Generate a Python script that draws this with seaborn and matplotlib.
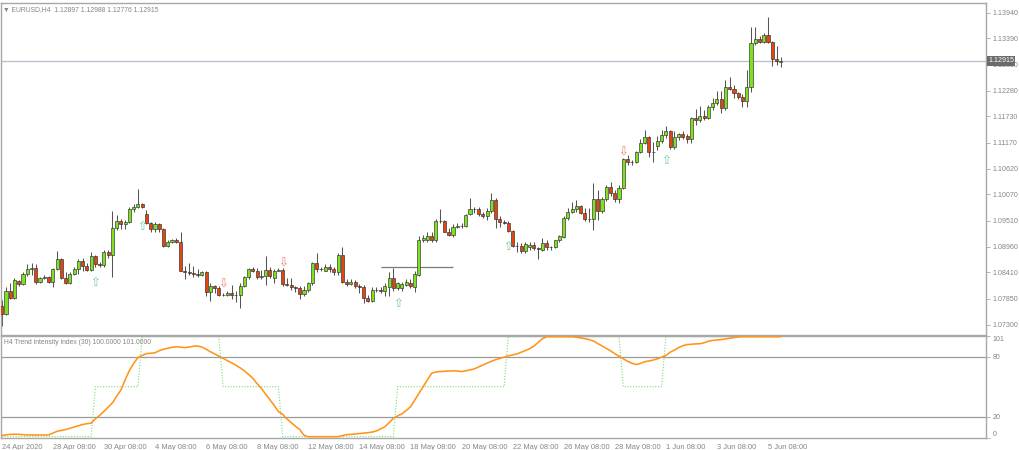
import numpy as np
import pandas as pd
import seaborn as sns
import matplotlib.pyplot as plt

# EURUSD H4 candles, 24 Apr 2020 08:00 .. 5 Jun 2020
opens = [
    1.0770, 1.0753, 1.0802, 1.0787, 1.0823, 1.0817, 1.0838, 1.0849, 1.0851, 1.0821,
    1.0828, 1.0832, 1.0821, 1.0849, 1.0870, 1.0830, 1.0819, 1.0838, 1.0849, 1.0866,
    1.0855, 1.0847, 1.0875, 1.0858, 1.0857, 1.0885, 1.0877, 1.0936, 1.0951, 1.0945,
    1.0949, 1.0977, 1.0981, 1.0987, 1.0966, 1.0947, 1.0934, 1.0945, 1.0934, 1.0898,
    1.0906, 1.0911, 1.0906, 1.0845, 1.0841, 1.0840, 1.0838, 1.0836, 1.0841, 1.0800,
    1.0811, 1.0807, 1.0792, 1.0792, 1.0798, 1.0792, 1.0793, 1.0811, 1.0832, 1.0849,
    1.0843, 1.0832, 1.0834, 1.0847, 1.0828, 1.0845, 1.0847, 1.0817, 1.0815, 1.0809,
    1.0807, 1.0794, 1.0804, 1.0819, 1.0860, 1.0849, 1.0845, 1.0853, 1.0849, 1.0841,
    1.0879, 1.0821, 1.0817, 1.0821, 1.0811, 1.0809, 1.0787, 1.0781, 1.0804, 1.0804,
    1.0802, 1.0809, 1.0830, 1.0807, 1.0807, 1.0815, 1.0819, 1.0809, 1.0836, 1.0909,
    1.0911, 1.0919, 1.0909, 1.0951, 1.0951, 1.0928, 1.0921, 1.0938, 1.0939, 1.0940,
    1.0966, 1.0977, 1.0977, 1.0966, 1.0960, 1.0972, 1.0996, 1.0955, 1.0949, 1.0947,
    1.0930, 1.0898, 1.0898, 1.0887, 1.0896, 1.0900, 1.0892, 1.0889, 1.0904, 1.0894,
    1.0894, 1.0909, 1.0917, 1.0957, 1.0970, 1.0977, 1.0983, 1.0968, 1.0955, 1.0955,
    1.0998, 1.0972, 1.0998, 1.1023, 1.1009, 1.0998, 1.1021, 1.1083, 1.1077, 1.1077,
    1.1098, 1.1117, 1.1130, 1.1098, 1.1111, 1.1121, 1.1134, 1.1141, 1.1108, 1.1130,
    1.1136, 1.1132, 1.1125, 1.1170, 1.1166, 1.1174, 1.1170, 1.1194, 1.1202, 1.1211,
    1.1191, 1.1236, 1.1232, 1.1223, 1.1215, 1.1206, 1.1236, 1.1330, 1.1338, 1.1332,
    1.1347, 1.1332, 1.1296, 1.12897,
]
highs = [
    1.0783, 1.0809, 1.0819, 1.0830, 1.0824, 1.0841, 1.0858, 1.0860, 1.0858, 1.0832,
    1.0836, 1.0834, 1.0851, 1.0887, 1.0872, 1.0841, 1.0841, 1.0853, 1.0870, 1.0872,
    1.0860, 1.0885, 1.0879, 1.0864, 1.0889, 1.0889, 1.0972, 1.0964, 1.0955, 1.0953,
    1.0981, 1.0987, 1.1019, 1.0989, 1.0974, 1.0949, 1.0949, 1.0947, 1.0936, 1.0909,
    1.0913, 1.0915, 1.0926, 1.0855, 1.0862, 1.0855, 1.0849, 1.0843, 1.0843, 1.0819,
    1.0815, 1.0813, 1.0798, 1.0802, 1.0815, 1.0802, 1.0819, 1.0834, 1.0851, 1.0853,
    1.0851, 1.0847, 1.0875, 1.0853, 1.0849, 1.0851, 1.0851, 1.0828, 1.0828, 1.0811,
    1.0811, 1.0811, 1.0821, 1.0864, 1.0883, 1.0853, 1.0858, 1.0858, 1.0853, 1.0883,
    1.0896, 1.0826, 1.0826, 1.0824, 1.0817, 1.0815, 1.0792, 1.0809, 1.0809, 1.0809,
    1.0819, 1.0841, 1.0851, 1.0821, 1.0821, 1.0826, 1.0826, 1.0843, 1.0919, 1.0921,
    1.0926, 1.0926, 1.0955, 1.0977, 1.0953, 1.0936, 1.0943, 1.0947, 1.0947, 1.0966,
    1.1000, 1.0981, 1.0981, 1.0970, 1.0979, 1.1009, 1.1000, 1.0960, 1.0953, 1.0951,
    1.0932, 1.0906, 1.0904, 1.0906, 1.0906, 1.0906, 1.0896, 1.0915, 1.0911, 1.0898,
    1.0911, 1.0921, 1.0960, 1.0979, 1.0991, 1.0996, 1.0985, 1.0979, 1.0979, 1.1032,
    1.1017, 1.1002, 1.1028, 1.1034, 1.1017, 1.1028, 1.1085, 1.1091, 1.1081, 1.1100,
    1.1125, 1.1145, 1.1132, 1.1119, 1.1132, 1.1145, 1.1153, 1.1145, 1.1141, 1.1138,
    1.1141, 1.1136, 1.1172, 1.1189, 1.1196, 1.1187, 1.1198, 1.1213, 1.1227, 1.1227,
    1.1251, 1.1257, 1.1240, 1.1225, 1.1221, 1.1272, 1.1364, 1.1364, 1.1344, 1.1351,
    1.1385, 1.1334, 1.1323, 1.12988,
]
lows = [
    1.0726, 1.0751, 1.0785, 1.0785, 1.0813, 1.0815, 1.0834, 1.0836, 1.0817, 1.0819,
    1.0826, 1.0819, 1.0809, 1.0847, 1.0826, 1.0817, 1.0817, 1.0836, 1.0838, 1.0845,
    1.0843, 1.0845, 1.0853, 1.0853, 1.0853, 1.0872, 1.0832, 1.0932, 1.0934, 1.0934,
    1.0947, 1.0970, 1.0979, 1.0979, 1.0945, 1.0926, 1.0926, 1.0928, 1.0894, 1.0896,
    1.0904, 1.0904, 1.0843, 1.0826, 1.0836, 1.0832, 1.0832, 1.0834, 1.0790, 1.0781,
    1.0798, 1.0790, 1.0790, 1.0791, 1.0785, 1.0777, 1.0766, 1.0809, 1.0826, 1.0841,
    1.0826, 1.0826, 1.0815, 1.0830, 1.0819, 1.0843, 1.0811, 1.0811, 1.0804, 1.0800,
    1.0785, 1.0790, 1.0800, 1.0815, 1.0841, 1.0845, 1.0843, 1.0841, 1.0836, 1.0836,
    1.0819, 1.0813, 1.0815, 1.0807, 1.0798, 1.0775, 1.0779, 1.0779, 1.0800, 1.0798,
    1.0790, 1.0790, 1.0802, 1.0804, 1.0802, 1.0811, 1.0807, 1.0800, 1.0834, 1.0906,
    1.0906, 1.0906, 1.0906, 1.0947, 1.0926, 1.0919, 1.0917, 1.0936, 1.0936, 1.0938,
    1.0964, 1.0968, 1.0960, 1.0957, 1.0953, 1.0968, 1.0936, 1.0938, 1.0943, 1.0928,
    1.0894, 1.0885, 1.0883, 1.0883, 1.0889, 1.0889, 1.0870, 1.0887, 1.0889, 1.0889,
    1.0892, 1.0906, 1.0915, 1.0953, 1.0968, 1.0970, 1.0966, 1.0951, 1.0949, 1.0932,
    1.0953, 1.0968, 1.0994, 1.1004, 1.0991, 1.0989, 1.1019, 1.1070, 1.1070, 1.1074,
    1.1096, 1.1115, 1.1087, 1.1077, 1.1102, 1.1117, 1.1128, 1.1104, 1.1104, 1.1123,
    1.1125, 1.1117, 1.1117, 1.1155, 1.1162, 1.1166, 1.1168, 1.1187, 1.1198, 1.1181,
    1.1187, 1.1230, 1.1213, 1.1211, 1.1194, 1.1194, 1.1225, 1.1325, 1.1330, 1.1330,
    1.1330, 1.1281, 1.1283, 1.12776,
]
closes = [
    1.0753, 1.0802, 1.0787, 1.0824, 1.0817, 1.0838, 1.0849, 1.0851, 1.0821, 1.0828,
    1.0832, 1.0821, 1.0849, 1.0870, 1.0830, 1.0819, 1.0838, 1.0849, 1.0866, 1.0855,
    1.0847, 1.0875, 1.0858, 1.0857, 1.0885, 1.0877, 1.0936, 1.0951, 1.0945, 1.0949,
    1.0977, 1.0981, 1.0987, 1.0981, 1.0947, 1.0934, 1.0945, 1.0934, 1.0898, 1.0906,
    1.0911, 1.0906, 1.0845, 1.0841, 1.0840, 1.0838, 1.0836, 1.0841, 1.0800, 1.0811,
    1.0807, 1.0792, 1.0792, 1.0798, 1.0792, 1.0793, 1.0811, 1.0832, 1.0849, 1.0843,
    1.0832, 1.0834, 1.0847, 1.0834, 1.0845, 1.0847, 1.0817, 1.0815, 1.0809, 1.0807,
    1.0794, 1.0804, 1.0819, 1.0860, 1.0849, 1.0849, 1.0853, 1.0848, 1.0841, 1.0879,
    1.0821, 1.0817, 1.0821, 1.0811, 1.0810, 1.0787, 1.0781, 1.0804, 1.0804, 1.0802,
    1.0811, 1.0830, 1.0807, 1.0819, 1.0817, 1.0821, 1.0811, 1.0838, 1.0909, 1.0915,
    1.0919, 1.0909, 1.0951, 1.0951, 1.0928, 1.0921, 1.0938, 1.0939, 1.0940, 1.0964,
    1.0977, 1.0977, 1.0966, 1.0960, 1.0972, 1.0996, 1.0955, 1.0949, 1.0947, 1.0930,
    1.0898, 1.0898, 1.0887, 1.0902, 1.0900, 1.0892, 1.0891, 1.0904, 1.0894, 1.0895,
    1.0909, 1.0919, 1.0957, 1.0970, 1.0977, 1.0983, 1.0968, 1.0955, 1.0955, 1.0998,
    1.0972, 1.0998, 1.1023, 1.1009, 1.0998, 1.1021, 1.1083, 1.1077, 1.1077, 1.1098,
    1.1117, 1.1130, 1.1098, 1.1098, 1.1121, 1.1134, 1.1141, 1.1108, 1.1130, 1.1136,
    1.1130, 1.1125, 1.1170, 1.1166, 1.1174, 1.1170, 1.1194, 1.1202, 1.1211, 1.1191,
    1.1236, 1.1232, 1.1223, 1.1215, 1.1206, 1.1236, 1.1330, 1.1338, 1.1332, 1.1347,
    1.1332, 1.1296, 1.1290, 1.12915,
]

# Trend intensity index (30), one value per bar
tii = [
    1.2, 1.8, 2.4, 2.4, 2.4, 2.0, 1.7, 1.7, 1.7, 1.7, 1.7, 1.7,
    3.5, 5.4, 6.2, 7.1, 8.4, 9.6, 10.9, 12.2, 13.0, 13.5,
    17.9, 21.3, 25.3, 29.6, 33.8, 40.6, 46.6, 57.0, 66.2, 73.3,
    79.1, 81.2, 83.1, 83.5, 83.9, 86.0, 87.5, 88.4, 89.4, 90.0,
    89.5, 89.1, 89.6, 90.5, 90.7, 89.7, 87.5, 85.0, 82.8, 80.6,
    78.5, 76.3, 73.9, 71.4, 68.9, 65.9, 62.2, 58.3, 53.0, 48.2,
    42.6, 37.0, 31.3, 25.1, 22.3, 17.8, 14.1, 10.4, 7.2, 1.4,
    0, 0, 0, 0, 0, 0, 0, 0, 1.0, 2.1,
    2.3, 2.7, 3.0, 3.4, 4.0, 4.6, 5.7, 7.9, 9.9, 14.0,
    18.4, 20.8, 22.9, 26.1, 29.8, 36.5, 43.4, 50.1, 56.9, 63.5,
    64.8, 65.2, 65.4, 65.6, 65.9, 65.7, 65.1, 65.9, 66.9, 67.8,
    69.7, 71.6, 73.6, 75.4, 77.0, 78.3, 79.7, 80.8, 81.8, 82.7,
    84.4, 86.2, 87.9, 90.5, 94.3, 98.0, 100, 100, 100, 100,
    100, 100, 100, 99.5, 98.8, 98.0, 97.1, 95.7, 93.1, 90.8,
    88.3, 85.9, 83.0, 80.5, 78.0, 75.4, 73.5, 72.2, 73.2, 74.9,
    75.8, 76.6, 77.9, 79.6, 81.2, 84.5, 86.6, 89.1, 91.0, 92.1,
    92.5, 92.8, 93.0, 93.9, 95.5, 96.3, 96.7, 97.1, 97.8, 98.5,
    99.2, 99.8, 100, 100, 100, 100, 100, 100, 100, 100,
    100, 100,
]

# signal step line: level and the bar where it starts
step_levels = [0, 50, 100, 50, 0, 50, 100, 50, 100]
step_start = [0, 22, 33, 52, 66, 93, 119, 146, 156]

# arrow price (one per signal change, skipping the first level)
arrow_prices = [1.0819, 1.0939, 1.0815, 1.0860, 1.0775, 1.0896, 1.1098, 1.1079]

# drawn level line
level_price = 1.0853
level_bars = (89, 106)

price_ticks = [1.13940, 1.13390, 1.12830, 1.12280, 1.11730, 1.11170, 1.10620,
               1.10070, 1.09510, 1.08960, 1.08410, 1.07850, 1.07300]
date_labels = ["24 Apr 2020", "28 Apr 08:00", "30 Apr 08:00", "4 May 08:00",
               "6 May 08:00", "8 May 08:00", "12 May 08:00", "14 May 08:00",
               "18 May 08:00", "20 May 08:00", "22 May 08:00", "26 May 08:00",
               "28 May 08:00", "1 Jun 08:00", "3 Jun 08:00", "5 Jun 08:00"]
date_bars = [0, 12, 24, 36, 48, 60, 72, 84, 96, 108, 120, 132, 144, 156, 168, 180]

sns.set_style("white")
plt.rcParams['font.family'] = ['Liberation Sans', 'DejaVu Sans']

GRAY_TXT = '#858585'
FRAME = '#a8a8a8'
FS = 4.9       # header texts
FS_TICK = 5.4  # date labels
FS_Y = 5.1     # price / level labels

df = pd.DataFrame({'open': opens, 'high': highs, 'low': lows, 'close': closes})
df['bar'] = np.arange(len(df))
bull = df['close'] >= df['open']

step = np.zeros(len(df))
for lvl, st in zip(step_levels, step_start):
    step[st:] = lvl
ind = pd.DataFrame({'bar': df['bar'], 'tii': tii, 'step': step})

W, H = 1020, 450
def rect(l, t, r, b):
    return [l / W, 1 - b / H, (r - l) / W, (b - t) / H]

fig = plt.figure(figsize=(10.2, 4.5), dpi=100)
ax = fig.add_axes(rect(1.5, 2.5, 986, 335))
ax2 = fig.add_axes(rect(1.5, 336, 986, 437.5))

xlim = (-0.05, 231.2)

# candles
ax.vlines(df['bar'], df['low'], df['high'], color='#555555', lw=0.75, zorder=2)
body_lo = df[['open', 'close']].min(axis=1)
body_h = (df['close'] - df['open']).abs()
ax.bar(df['bar'][bull], body_h[bull], bottom=body_lo[bull], width=0.72,
       color='#7fe020', edgecolor='#2e2e2e', linewidth=0.45, zorder=3)
ax.bar(df['bar'][~bull], body_h[~bull], bottom=body_lo[~bull], width=0.72,
       color='#e4450f', edgecolor='#2e2e2e', linewidth=0.45, zorder=3)

# arrows at signal changes
for k, (st, pr) in enumerate(zip(step_start[1:], arrow_prices)):
    up = step_levels[k + 1] > step_levels[k]
    ax.text(st, pr, '\u21e7' if up else '\u21e9', ha='center', va='center',
            fontsize=8.5, color='#72c995' if up else '#f07a6c', zorder=4,
            family='DejaVu Sans')

ax.hlines(level_price, level_bars[0], level_bars[1], color='#7a7a7a', lw=0.9, zorder=1)
ax.axhline(closes[-1], color='#b9c3cf', lw=1.0, zorder=1)

ax.set_xlim(*xlim)
ax.set_ylim(1.07077, 1.14156)
ax.set_xticks([])
ax.yaxis.tick_right()
ax.set_yticks(price_ticks)
ax.set_yticklabels([f"{p:.5f}" for p in price_ticks])
ax.tick_params(axis='y', length=3, width=0.6, color=FRAME, labelsize=FS_Y,
               labelcolor=GRAY_TXT, pad=2)
ax.annotate(f"{closes[-1]:.5f}", xy=(1.0, closes[-1]), xycoords=('axes fraction', 'data'),
            xytext=(1.5, 0), textcoords='offset points', ha='left', va='center',
            fontsize=FS_Y, color='white', annotation_clip=False, zorder=10,
            bbox=dict(boxstyle='square,pad=0.2', fc='#6b6b6b', ec='none'))

# indicator panel
sns.lineplot(data=ind, x='bar', y='step', ax=ax2, color='#74dd74', lw=0.8,
             linestyle=(0, (1, 1.5)), zorder=2)
sns.lineplot(data=ind, x='bar', y='tii', ax=ax2, color='#ff9418', lw=1.15, zorder=3)
for lvl in (80, 20):
    ax2.axhline(lvl, color='#9a9a9a', lw=0.9, zorder=1)
ax2.set_xlim(*xlim)
ax2.set_ylim(-0.8, 100.7)
ax2.set_xlabel('')
ax2.set_ylabel('')
ax2.yaxis.tick_right()
ax2.set_yticks([100.7, 80, 20, -0.8])
ax2.set_yticklabels(['101', '80', '20', '0'])
ylabs = ax2.get_yticklabels()
ylabs[0].set_verticalalignment('top')
ylabs[-1].set_verticalalignment('bottom')
ax2.tick_params(axis='y', length=3, width=0.6, color=FRAME, labelsize=FS_Y,
                labelcolor=GRAY_TXT, pad=2)
ax2.set_xticks(date_bars)
ax2.set_xticklabels(date_labels, ha='left')
ax2.tick_params(axis='x', length=3, width=0.6, color=FRAME, labelsize=FS_TICK,
                labelcolor=GRAY_TXT, pad=2)

for a in (ax, ax2):
    for s in a.spines.values():
        s.set_color(FRAME)
        s.set_linewidth(1.0)

fig.text(3 / W, 1 - 10 / H, '\u25bc EURUSD,H4  1.12897 1.12988 1.12776 1.12915',
         fontsize=FS, color=GRAY_TXT, va='center', ha='left')
fig.text(4 / W, 1 - 342 / H, 'H4 Trend intensity index (30) 100.0000 101.0000',
         fontsize=FS, color=GRAY_TXT, va='center', ha='left')

fig.savefig('out.png', dpi=100)
